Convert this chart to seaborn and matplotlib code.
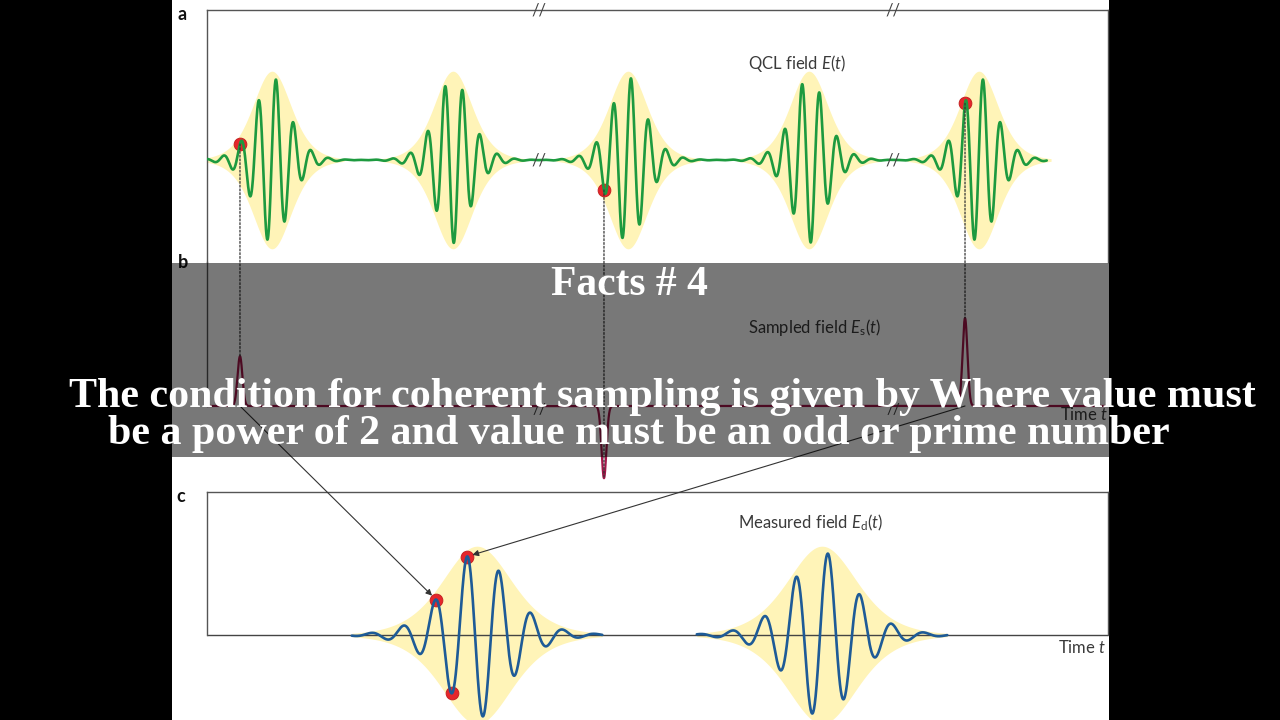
import numpy as np
import pandas as pd
import matplotlib
matplotlib.use("Agg")
import matplotlib.pyplot as plt
import seaborn as sns
from matplotlib.patches import ConnectionPatch, Rectangle

# ---------------- data (time in arbitrary units 0..100, field normalised) ----------------
a_centers = [7.21, 27.30, 46.73, 66.81, 85.68]        # QCL pulse envelope centres
a_peak_times = [7.66, 26.42, 47.06, 66.04, 86.13]     # time of a carrier maximum in each pulse
a_amplitudes = [1.0, 1.0, 1.0, 1.0, 1.0]
a_period = 1.94
a_tau = 2.5
a_end = 93.2
a_sample_times = [3.66, 44.06, 84.13]                 # red sampling points in panel a
break_times = [36.85, 76.14]                           # "//" axis break positions

b_spike_heights = [0.60, -0.87, 1.06]                 # sampled field spikes
b_spike_width = 0.27

c_centers = [29.97, 68.26]                             # measured (down-converted) pulses
c_peak_times = [28.86, 68.92]
c_amplitudes = [1.0, 1.0]
c_period = 3.55
c_tau = 4.66
c_half_span = 13.9
c_sample_times = [25.42, 28.86, 27.19]                 # red points in panel c
arrow_links = [(0, 0), (2, 1)]                         # (spike index in b, dot index in c)

title_text = "Facts # 4"
caption_lines = ["The condition for coherent sampling is given by Where value must",
                 "be a power of 2 and value must be an odd or prime number"]

GREEN = "#1d9a3f"
BLUE = "#1e5b97"
MAROON = "#a3174a"
YELLOW = "#fff4b8"
RED = "#e5262b"
GREY = "#555555"
TXT = "#3a3a3a"

# ---------------- style ----------------
sns.set_theme(style="white")
plt.rcParams["font.family"] = ["Lato", "DejaVu Sans"]
plt.rcParams["mathtext.fontset"] = "custom"
plt.rcParams["mathtext.rm"] = "Lato"
plt.rcParams["mathtext.it"] = "Lato:italic"

W, H = 1280, 720
fig = plt.figure(figsize=(W / 100, H / 100), dpi=100, facecolor="black")


def px_axes(l, t, r, b, **kw):
    return fig.add_axes([l / W, 1 - b / H, (r - l) / W, (b - t) / H], **kw)


def env_shape(x):
    return 1.0 / np.cosh(x) ** 2


def packet(t, c, tp, A, tau, period):
    return A * env_shape((t - c) / tau) * np.cos(2 * np.pi * (t - tp) / period)


def field_a(t):
    t = np.asarray(t, dtype=float)
    return sum(packet(t, c, tp, A, a_tau, a_period)
               for c, tp, A in zip(a_centers, a_peak_times, a_amplitudes))


def field_c(t, i):
    return packet(np.asarray(t, dtype=float), c_centers[i], c_peak_times[i],
                  c_amplitudes[i], c_tau, c_period)


# white page
bg = px_axes(172, 0, 1109, 720, zorder=-5)
bg.set_facecolor("white")
bg.set_xticks([]); bg.set_yticks([])
for s in bg.spines.values():
    s.set_visible(False)

ax_a = px_axes(207, 10, 1108, 262)
ax_b = px_axes(207, 262, 1108, 490)
ax_c = px_axes(207, 492, 1108, 720)
lims = {ax_a: (-102 / 83, 150 / 83), ax_b: (-84 / 83, 144 / 83), ax_c: (-85 / 83, 143 / 83)}
for ax in (ax_a, ax_b, ax_c):
    ax.set_facecolor("none")
    ax.set_xlim(0, 100)
    ax.set_ylim(*lims[ax])
    for s in ax.spines.values():
        s.set_color(GREY)
        s.set_linewidth(1.0)

# ---------------- panel a ----------------
ta = np.linspace(0, a_end, 5000)
for c, A in zip(a_centers, a_amplitudes):
    tt = np.linspace(c - 8.0, c + 8.0, 600)
    env = 1.07 * A * env_shape((tt - c) / (1.15 * a_tau))
    ax_a.fill_between(tt, -env, env, color=YELLOW, lw=0, zorder=1)
sns.lineplot(x=ta, y=field_a(ta), ax=ax_a, color=GREEN, linewidth=1.9,
             estimator=None, sort=False, zorder=3)
ax_a.scatter(a_sample_times, field_a(a_sample_times), s=85, color=RED,
             edgecolor="#c01c1c", linewidth=0.6, zorder=2)
ax_a.spines["bottom"].set_visible(False)
ax_a.text(0.600, 0.786, r"QCL field $E(t)$", transform=ax_a.transAxes,
          fontsize=12, color=TXT, va="center", ha="left")
for bt in break_times:
    ax_a.text(bt, lims[ax_a][1], "//", ha="center", va="center", fontsize=12,
              color="#444444", clip_on=False, zorder=4)
    ax_a.text(bt, 0, "//", ha="center", va="center", fontsize=12,
              color="#444444", clip_on=False, zorder=4)

# ---------------- panel b ----------------
tb = np.linspace(0, 100, 6000)
yb = sum(h * np.exp(-(tb - ts) ** 2 / (2 * b_spike_width ** 2))
         for h, ts in zip(b_spike_heights, a_sample_times))
sns.lineplot(x=tb, y=yb, ax=ax_b, color=MAROON, linewidth=1.6,
             estimator=None, sort=False, zorder=3)
for side in ("top", "right", "bottom"):
    ax_b.spines[side].set_visible(False)
ax_b.spines["left"].set_bounds(0, lims[ax_b][1])
ax_b.text(0.600, 0.714, r"Sampled field $E_{\mathrm{s}}(t)$", transform=ax_b.transAxes,
          fontsize=12, color=TXT, va="center", ha="left")
ax_b.text(0.947, 0.33, r"Time $t$", transform=ax_b.transAxes,
          fontsize=12, color=TXT, va="center", ha="left", clip_on=False)
for bt in break_times:
    ax_b.text(bt, -0.05, "//", ha="center", va="center", fontsize=11,
              color="#444444", zorder=4)

# ---------------- panel c ----------------
for i, (c, A) in enumerate(zip(c_centers, c_amplitudes)):
    tt = np.linspace(c - c_half_span, c + c_half_span, 1500)
    env = 1.07 * A * env_shape((tt - c) / (1.12 * c_tau))
    ax_c.fill_between(tt, -env, env, color=YELLOW, lw=0, zorder=1)
    sns.lineplot(x=tt, y=field_c(tt, i), ax=ax_c, color=BLUE, linewidth=1.9,
                 estimator=None, sort=False, zorder=3)
ax_c.axhline(0, color="#444444", lw=1.0, zorder=2)
c_dot_y = field_c(c_sample_times, 0)
ax_c.scatter(c_sample_times, c_dot_y, s=85, color=RED, edgecolor="#c01c1c",
             linewidth=0.6, zorder=2.5)
ax_c.spines["bottom"].set_visible(False)
ax_c.spines["left"].set_bounds(0, lims[ax_c][1])
ax_c.spines["right"].set_bounds(0, lims[ax_c][1])
ax_c.text(0.589, 0.864, r"Measured field $E_{\mathrm{d}}(t)$", transform=ax_c.transAxes,
          fontsize=12, color=TXT, va="center", ha="left")
ax_c.text(0.944, 0.316, r"Time $t$", transform=ax_c.transAxes,
          fontsize=12, color=TXT, va="center", ha="left", clip_on=False)

for ax in (ax_a, ax_b, ax_c):
    ax.set_xticks([]); ax.set_yticks([])
    ax.set_xlabel(""); ax.set_ylabel("")

# panel letters
for letter, (x, y) in zip("abc", [(178, 14), (178, 263), (176, 497)]):
    fig.text(x / W, 1 - y / H, letter, fontsize=13, fontweight="bold",
             color="#111111", ha="left", va="center")

# dotted sampling lines a -> b
a_dot_y = field_a(a_sample_times)
for ts, ya, hb in zip(a_sample_times, a_dot_y, b_spike_heights):
    con = ConnectionPatch(xyA=(ts, ya), coordsA=ax_a.transData,
                          xyB=(ts, hb), coordsB=ax_b.transData,
                          linestyle=(0, (1.5, 1.5)), color="#333333", lw=0.9, zorder=1.5)
    fig.add_artist(con)

# arrows b -> c
for ib, ic in arrow_links:
    con = ConnectionPatch(xyA=(a_sample_times[ib], 0.0), coordsA=ax_b.transData,
                          xyB=(c_sample_times[ic], c_dot_y[ic]), coordsB=ax_c.transData,
                          arrowstyle="-|>", mutation_scale=9, shrinkB=4,
                          color="#333333", lw=0.8, zorder=1.5)
    fig.add_artist(con)

# ---------------- video caption overlay ----------------
fig.add_artist(Rectangle((172 / W, 1 - 457 / H), (1110 - 172) / W, (457 - 263) / H,
                         transform=fig.transFigure, facecolor="black", alpha=0.53,
                         edgecolor="none", zorder=5))
cap_font = ["Liberation Serif", "DejaVu Serif"]
t0 = fig.text(629 / W, 1 - 295 / H, title_text, fontsize=28, fontweight="bold",
              family=cap_font, color="white", ha="center", va="baseline", zorder=6)
t1 = fig.text(662 / W, 1 - 407 / H, caption_lines[0], fontsize=28, fontweight="bold",
              family=cap_font, color="white", ha="center", va="baseline", zorder=6)
t2 = fig.text(639 / W, 1 - 444 / H, caption_lines[1], fontsize=28, fontweight="bold",
              family=cap_font, color="white", ha="center", va="baseline", zorder=6)

fig.canvas.draw()
renderer = fig.canvas.get_renderer()
for txt, target in ((t0, 157), (t1, 1188), (t2, 1062)):
    w = txt.get_window_extent(renderer).width
    txt.set_fontsize(txt.get_fontsize() * target / w)

fig.savefig("out.png", dpi=100, facecolor="black")
